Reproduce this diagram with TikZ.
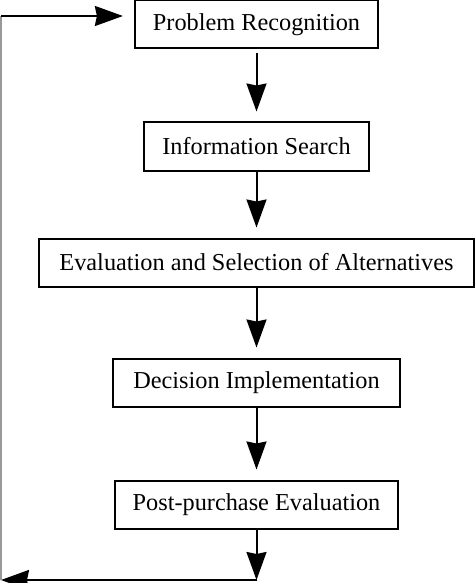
\documentclass[tikz,border=0pt]{standalone}
\usepackage{fontspec}
\setmainfont{Liberation Serif}
\usetikzlibrary{arrows.meta, positioning}

\begin{document}
\begin{tikzpicture}[x=1pt, y=-1pt, >={Stealth[length=28pt, width=20pt, inset=2pt]},
    stage/.style={rectangle, draw=black, line width=2pt, fill=white, minimum height=48pt, inner xsep=18pt, inner ysep=0pt, font=\fontsize{24.3}{28}\selectfont},
    arrow/.style={line width=2pt, ->, shorten >=10pt},
    loopline/.style={line width=2.5pt, color=black!40}]

    \useasboundingbox (0,0) rectangle (474,583);

    % Stages
    \node[stage, minimum width=241pt] (problem) at (256.5,24.5) {Problem Recognition};
    \node[stage, minimum width=223pt, below=72pt of problem] (search) {Information Search};
    \node[stage, minimum width=435pt, below=66pt of search] (evaluation) {Evaluation and Selection of Alternatives};
    \node[stage, minimum width=287pt, below=70pt of evaluation] (decision) {Decision Implementation};
    \node[stage, minimum width=281pt, below=72pt of decision] (postpurchase) {Post-purchase Evaluation};

    % Feedback corners
    \coordinate (turn) at (256.5,580);
    \coordinate (corner) at (1,580);
    \coordinate (topleft) at (1,16);

    % Connections
    \draw[arrow, shorten <=4pt] (problem) -- (search);
    \draw[arrow] (search) -- (evaluation);
    \draw[arrow] (evaluation) -- (decision);
    \draw[arrow] (decision) -- (postpurchase);
    \draw[arrow, shorten >=0pt] (postpurchase) -- (turn);
    \draw[arrow, shorten >=0pt] (turn) -- (corner);
    \draw[loopline] (corner) -- (topleft);
    \draw[arrow, shorten >=11pt] (topleft) -- (topleft -| problem.west);
\end{tikzpicture}
\end{document}
